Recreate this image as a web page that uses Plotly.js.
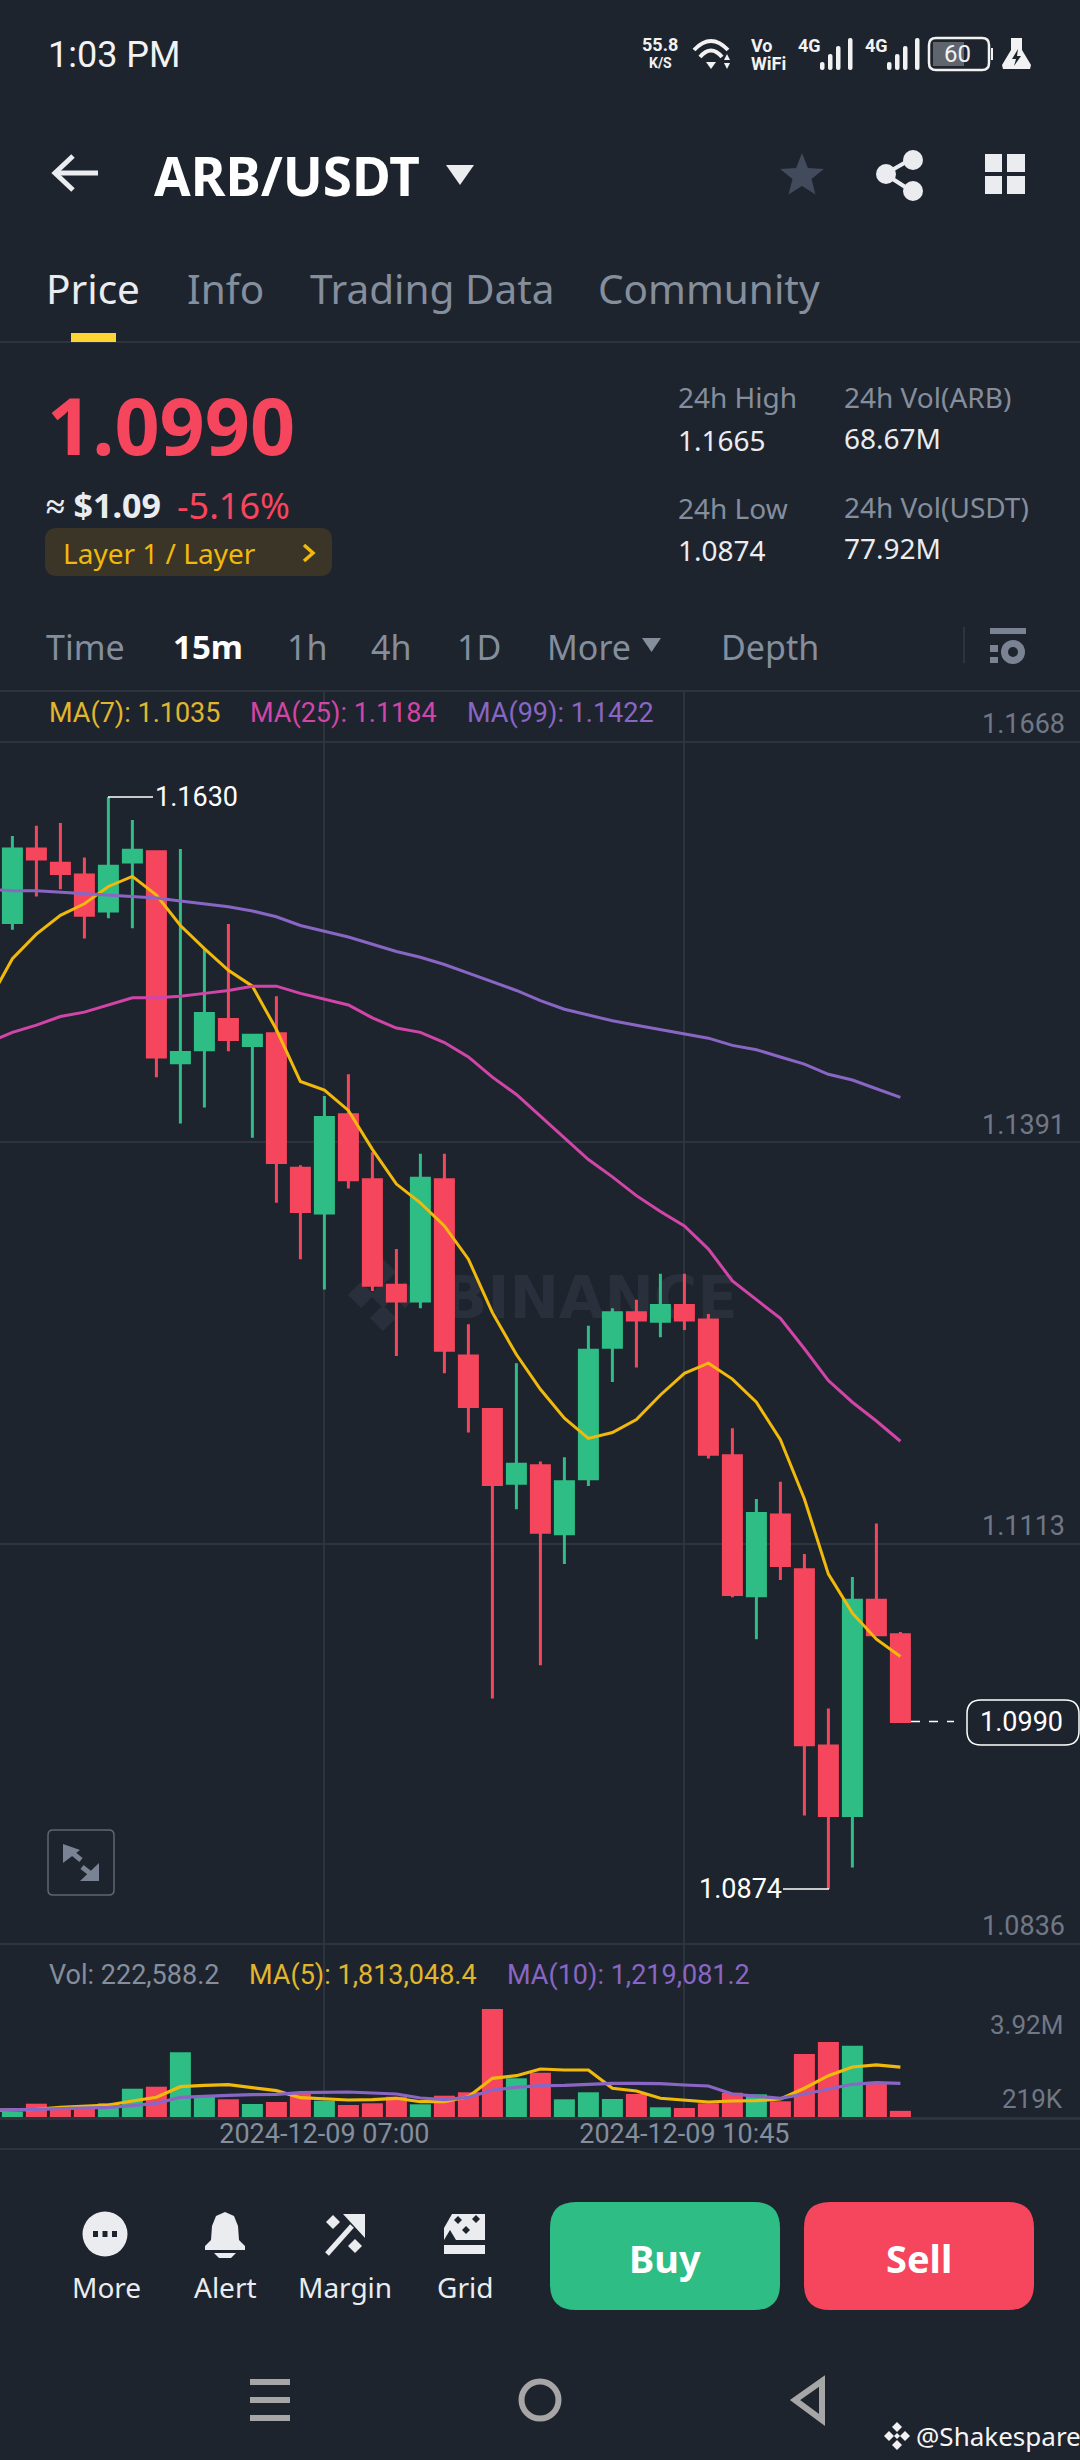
<!DOCTYPE html>
<html>
<head>
<meta charset="utf-8">
<script src="https://cdn.plot.ly/plotly-3.0.1.min.js"></script>
<style>html,body{margin:0;padding:0;background:#1e242e;}#chart{width:1080px;height:2460px;}</style>
</head>
<body>
<div id="chart"></div>
<script>
// ---------- data ----------
const times = ["03:45","04:00","04:15","04:30","04:45","05:00","05:15","05:30","05:45","06:00","06:15","06:30","06:45","07:00","07:15","07:30","07:45","08:00","08:15","08:30","08:45","09:00","09:15","09:30","09:45","10:00","10:15","10:30","10:45","11:00","11:15","11:30","11:45","12:00","12:15","12:30","12:45","13:00"];
const maTimes = ["03:30"].concat(times);
const opens = [1.1543,1.1594,1.1584,1.1576,1.1551,1.1585,1.1592,1.1446,1.1455,1.1476,1.1458,1.1466,1.1373,1.1342,1.1410,1.1365,1.1292,1.1281,1.1365,1.1243,1.1206,1.1155,1.1167,1.1120,1.1158,1.1249,1.1273,1.1267,1.1278,1.1268,1.1174,1.1077,1.1133,1.1095,1.0973,1.0925,1.1074,1.1050];
const closes = [1.1594,1.1587,1.1577,1.1548,1.1582,1.1593,1.1450,1.1453,1.1480,1.1462,1.1465,1.1377,1.1343,1.1408,1.1365,1.1292,1.1281,1.1366,1.1247,1.1208,1.1154,1.1168,1.1121,1.1156,1.1247,1.1273,1.1268,1.1278,1.1268,1.1175,1.1078,1.1134,1.1098,1.0974,1.0925,1.1074,1.1050,1.0990];
const highs = [1.1603,1.1610,1.1612,1.1588,1.1630,1.1614,1.1593,1.1594,1.1525,1.1542,1.1466,1.1492,1.1375,1.1423,1.1438,1.1384,1.1317,1.1383,1.1383,1.1265,1.1207,1.1238,1.1170,1.1173,1.1264,1.1276,1.1282,1.1300,1.1300,1.1272,1.1193,1.1144,1.1156,1.1106,1.0999,1.1090,1.1127,1.1052];
const lows = [1.1538,1.1561,1.1566,1.1532,1.1546,1.1539,1.1436,1.1404,1.1415,1.1454,1.1394,1.1349,1.1310,1.1289,1.1359,1.1288,1.1243,1.1276,1.1231,1.1190,1.1006,1.1137,1.1029,1.1099,1.1153,1.1225,1.1235,1.1256,1.1261,1.1172,1.1076,1.1047,1.1088,1.0925,1.0874,1.0889,1.1049,1.0990];
const ma7 = [1.1488,1.1518,1.1535,1.1548,1.1556,1.1568,1.1575,1.1562,1.1541,1.1525,1.1510,1.1499,1.1469,1.1433,1.1427,1.1413,1.1386,1.1362,1.1349,1.1333,1.1310,1.1273,1.1244,1.1220,1.1200,1.1186,1.1190,1.1199,1.1216,1.1231,1.1238,1.1227,1.1211,1.1185,1.1144,1.1092,1.1065,1.1047,1.1035];
const ma25 = [1.1460,1.1467,1.1472,1.1478,1.1481,1.1486,1.1491,1.1491,1.1492,1.1494,1.1496,1.1499,1.1499,1.1494,1.1490,1.1486,1.1477,1.1470,1.1467,1.1460,1.1450,1.1436,1.1424,1.1409,1.1394,1.1379,1.1367,1.1354,1.1343,1.1333,1.1317,1.1295,1.1282,1.1269,1.1248,1.1226,1.1211,1.1198,1.1184];
const ma99 = [1.1566,1.1565,1.1565,1.1564,1.1563,1.1562,1.1561,1.1560,1.1558,1.1556,1.1554,1.1551,1.1547,1.1541,1.1537,1.1533,1.1528,1.1523,1.1519,1.1514,1.1508,1.1502,1.1496,1.1489,1.1483,1.1479,1.1475,1.1472,1.1469,1.1466,1.1463,1.1458,1.1455,1.1450,1.1445,1.1438,1.1434,1.1428,1.1422];
const volumes = [192000,483000,352000,399000,497000,1027000,1100000,2348000,737000,642000,472000,544000,882000,592000,436000,497000,737000,461000,773000,897000,3920000,1405000,1608000,642000,897000,653000,835000,352000,327000,497000,882000,824000,570000,2287000,2722000,2588000,1223000,222588];
const volMa5 = [236000,254000,280000,352000,388000,436000,581000,715000,1100000,1151000,1172000,1064000,955000,701000,653000,617000,628000,679000,555000,555000,737000,1405000,1499000,1742000,1706000,1706000,1042000,944000,679000,617000,545000,581000,592000,653000,1042000,1499000,1815000,1888000,1813048];
const volMa10 = [254000,254000,280000,301000,327000,352000,410000,497000,715000,762000,788000,809000,824000,882000,908000,908000,871000,835000,690000,628000,715000,980000,1078000,1136000,1151000,1198000,1223000,1223000,1209000,1162000,1125000,835000,762000,679000,835000,1016000,1187000,1245000,1219081];
const priceTicks = [1.1668,1.1391,1.1113,1.0836];
const gridTimes = ["07:00","10:45"];
const gridLabels = ["2024-12-09 07:00","2024-12-09 10:45"];
const lastPrice = 1.0990, highMark = 1.1630, lowMark = 1.0874;

// ---------- palette ----------
const BG="#1e242e", LINE="#2e343e", GREEN="#2ebd85", RED="#f6465d", GRAY="#848e9c", DIM="#707885", WHITE="#eaecef", YEL="#f0b90b", MAG="#d245a8", PUR="#8a66c4";
const UI="Noto Sans", NUM="Roboto";
const day = t => "2024-12-09 " + t;

// ---------- helpers for chrome, in page pixels ----------
const W=1080,H=2460, px=x=>x/W, py=y=>1-y/H;
const annotations=[], shapes=[];
function T(text,x,y,size,color,o){o=o||{};annotations.push({xref:"paper",yref:"paper",x:px(x),y:py(y),xanchor:o.a||"left",yanchor:"middle",showarrow:false,text:o.b?"<b>"+text+"</b>":text,borderpad:0,font:{family:o.f||UI,size:size,color:color}});}
function P(pts,close){return pts.map((p,i)=>(i?"L":"M")+px(p[0])+","+py(p[1])).join(" ")+(close?" Z":"");}
function poly(pts,fill){shapes.push({type:"path",xref:"paper",yref:"paper",path:P(pts,true),fillcolor:fill,line:{width:0}});}
function stroke(pts,color,w){shapes.push({type:"path",xref:"paper",yref:"paper",path:P(pts,false),fillcolor:"rgba(0,0,0,0)",line:{color:color,width:w}});}
function rect(x0,y0,x1,y1,fill){poly([[x0,y0],[x1,y0],[x1,y1],[x0,y1]],fill);}
function rr(x0,y0,x1,y1,r,fill,lc,lw){
 shapes.push({type:"path",xref:"paper",yref:"paper",
  path:`M${px(x0+r)},${py(y0)} L${px(x1-r)},${py(y0)} Q${px(x1)},${py(y0)} ${px(x1)},${py(y0+r)} L${px(x1)},${py(y1-r)} Q${px(x1)},${py(y1)} ${px(x1-r)},${py(y1)} L${px(x0+r)},${py(y1)} Q${px(x0)},${py(y1)} ${px(x0)},${py(y1-r)} L${px(x0)},${py(y0+r)} Q${px(x0)},${py(y0)} ${px(x0+r)},${py(y0)} Z`,
  fillcolor:fill||"rgba(0,0,0,0)",line:{color:lc||"rgba(0,0,0,0)",width:lw||0}});}
function ell(cx,cy,rx,ry,fill,lc,lw){shapes.push({type:"circle",xref:"paper",yref:"paper",x0:px(cx-rx),x1:px(cx+rx),y0:py(cy-ry),y1:py(cy+ry),fillcolor:fill||"rgba(0,0,0,0)",line:{color:lc||"rgba(0,0,0,0)",width:lw||0}});}
function hline(y,color,w){shapes.push({type:"line",xref:"paper",yref:"paper",x0:0,x1:1,y0:py(y),y1:py(y),line:{color:color||LINE,width:w||2}});}
function diamond(cx,cy,r,fill,layer){shapes.push({type:"path",layer:layer||"above",xref:"paper",yref:"paper",path:P([[cx,cy-r],[cx+r,cy],[cx,cy+r],[cx-r,cy]],true),fillcolor:fill,line:{width:0}});}

// separators
hline(342); hline(691); hline(1944); hline(2149);

// status bar
T("1:03 PM",47,55,36,"#f2f2f2",{f:NUM});
T("55.8",660,44,18,"#f2f2f2",{a:"center",f:NUM,b:1});
T("K/S",660,63,14,"#f2f2f2",{a:"center",f:NUM,b:1});
shapes.push({type:"path",xref:"paper",yref:"paper",path:`M${px(694)},${py(50)} Q${px(711)},${py(32)} ${px(728)},${py(50)}`,fillcolor:"rgba(0,0,0,0)",line:{color:"#f2f2f2",width:4}});
shapes.push({type:"path",xref:"paper",yref:"paper",path:`M${px(700)},${py(57)} Q${px(711)},${py(44)} ${px(722)},${py(57)}`,fillcolor:"rgba(0,0,0,0)",line:{color:"#f2f2f2",width:4}});
poly([[706,62],[716,62],[711,69]],"#f2f2f2");
poly([[724,60],[730,60],[727,54]],"#f2f2f2"); poly([[724,63],[730,63],[727,69]],"#f2f2f2");
T("Vo",750,45,18,"#f2f2f2",{f:NUM,b:1});
T("WiFi",750,63,18,"#f2f2f2",{f:NUM,b:1});
T("4G",797,46,18,"#f2f2f2",{f:NUM,b:1});
[[820,62],[828,54],[836,46],[848,38]].forEach(b=>rr(b[0],b[1],b[0]+4.5,70,2,"#f2f2f2"));
T("4G",864,46,18,"#f2f2f2",{f:NUM,b:1});
[[887,62],[895,54],[903,46],[915,38]].forEach(b=>rr(b[0],b[1],b[0]+4.5,70,2,"#f2f2f2"));
rect(933,42,964,66,"#60656d");
rr(929,38,989,70,7,null,"#f2f2f2",2.5);
rect(991,48,993,60,"#f2f2f2");
T("60",957,54,24,"#f2f2f2",{a:"center",f:NUM});
poly([[1011,38],[1022,38],[1022,50],[1031,65],[1030,69],[1003,69],[1002,65],[1011,50]],"#f2f2f2");
poly([[1018,49],[1012,59],[1016,59],[1014,66],[1021,56],[1017,56]],BG);

// header
stroke([[98,173],[56,173]],WHITE,5); stroke([[73,156],[55,173],[73,190]],WHITE,5);
T("ARB/USDT",153,175,53,"#ffffff",{f:UI,b:1});
poly([[446,165],[474,165],[460,185]],WHITE);
const star=[];for(let i=0;i<10;i++){const r=i%2?10:23,a=-Math.PI/2+i*Math.PI/5;star.push([802+r*Math.cos(a),176+r*Math.sin(a)]);}
poly(star,"#414b5c");
stroke([[913,158],[885,174],[913,192]],WHITE,4);
ell(913,160,10,10,WHITE);ell(886,174,10,10,WHITE);ell(913,191,10,10,WHITE);
rect(985,154,1002,172,WHITE);rect(1007,154,1025,172,WHITE);rect(985,176,1002,194,WHITE);rect(1007,176,1025,194,WHITE);

// tabs
T("Price",45,288,40.5,WHITE,{});
T("Info",186,288,40.5,GRAY,{});
T("Trading Data",309,288,40.5,GRAY,{});
T("Community",597,288,40.5,GRAY,{});
rect(71,333,116,342,"#fcd535");

// price block
T("1.0990",46,425,79,RED,{f:UI,b:1});
T("≈ $1.09",45,505,34,WHITE,{b:1});
T("-5.16%",176,505,36,RED,{});
rr(45,528,332,576,12,"#3a3527");
T("Layer 1 / Layer",62,553,28,"#f0b90b",{});
stroke([[304,545],[313,553],[304,561]],"#f0b90b",3.5);
T("24h High",677,397,28,GRAY,{});
T("24h Vol(ARB)",843,397,28,GRAY,{});
T("1.1665",677,440,28,WHITE,{});
T("68.67M",843,438,28,WHITE,{});
T("24h Low",677,508,28,GRAY,{});
T("24h Vol(USDT)",843,507,28,GRAY,{});
T("1.0874",677,550,28,WHITE,{});
T("77.92M",843,548,28,WHITE,{});

// interval tabs
T("Time",45,647,34,GRAY,{});
T("15m",172,647,33,"#ffffff",{b:1});
T("1h",286,647,34,GRAY,{});
T("4h",370,647,34,GRAY,{});
T("1D",456,647,34,GRAY,{});
T("More",546,647,34,GRAY,{});
poly([[642,638],[661,638],[651.5,652]],GRAY);
T("Depth",720,647,34,GRAY,{});
stroke([[964,627],[964,663]],LINE,2);
rect(990,628,1026,634,"#7a8394");rect(990,645,998,652,"#7a8394");rect(990,657,998,663,"#7a8394");
ell(1013,652,12,12,"#7a8394");ell(1013,652,5,5,BG);

// price pane labels
T("MA(7): 1.1035",48,713,27,"#e2b62c",{f:NUM});
T("MA(25): 1.1184",249,713,27,MAG,{f:NUM});
T("MA(99): 1.1422",466,713,27,PUR,{f:NUM});

// last price marker
shapes.push({type:"line",xref:"paper",yref:"y",x0:px(911),x1:px(954),y0:lastPrice,y1:lastPrice,line:{color:"#ffffff",width:1.5,dash:"9px,9px"}});
rr(967,1700,1079,1745,14,BG,"#ffffff",1.5);
T("1.0990",1064,1722,27,"#ffffff",{a:"right",f:NUM});

// high / low markers, anchored to the candles through the axes
shapes.push({type:"line",xref:"paper",yref:"y",x0:px(108),x1:px(153),y0:highMark,y1:highMark,line:{color:"#ffffff",width:1.5}});
shapes.push({type:"line",xref:"paper",yref:"y",x0:px(783),x1:px(829),y0:lowMark,y1:lowMark,line:{color:"#ffffff",width:1.5}});
annotations.push({xref:"paper",yref:"y",x:px(154),y:highMark,xanchor:"left",yanchor:"middle",showarrow:false,text:highMark.toFixed(4),borderpad:0,font:{family:NUM,size:27,color:"#ffffff"}});
annotations.push({xref:"paper",yref:"y",x:px(783),y:lowMark,xanchor:"right",yanchor:"middle",showarrow:false,text:lowMark.toFixed(4),borderpad:0,font:{family:NUM,size:27,color:"#ffffff"}});

// expand button
rr(48,1830,114,1895,5,null,"#5e6673",1.5);
poly([[63,1844],[80,1850],[63,1863]],"#7a8394");
stroke([[70,1851],[81,1860]],"#7a8394",5);
poly([[99,1881],[99,1863],[80,1881]],"#7a8394");
stroke([[82,1867],[91,1874]],"#7a8394",5);

// watermark under the candles
[[383,1272],[361,1295],[405,1295],[383,1295],[383,1318]].forEach(d=>diamond(d[0],d[1],13,"#2a303b","below"));
shapes.push({type:"rect",layer:"below",xref:"paper",yref:"paper",x0:px(452),x1:px(728),y0:py(1320),y1:py(1266),fillcolor:"rgba(0,0,0,0)",line:{width:0},
  label:{text:"BINANCE",textposition:"middle center",font:{family:"DejaVu Sans",size:59,color:"#2a303b",weight:700}}});

// volume pane labels
T("Vol: 222,588.2",48,1975,27,GRAY,{f:NUM});
T("MA(5): 1,813,048.4",248,1975,27,"#e2b62c",{f:NUM});
T("MA(10): 1,219,081.2",506,1975,27,PUR,{f:NUM});
annotations.push({xref:"paper",yref:"y2",x:px(1064),y:volumes[20],yshift:-16,xanchor:"right",yanchor:"middle",showarrow:false,text:"3.92M",borderpad:0,font:{family:NUM,size:26,color:DIM}});
annotations.push({xref:"paper",yref:"y2",x:px(1064),y:219000,yshift:12,xanchor:"right",yanchor:"middle",showarrow:false,text:"219K",borderpad:0,font:{family:NUM,size:26,color:DIM}});

// action bar
ell(105,2234,22.5,22.5,WHITE);rect(93,2231,98,2237,BG);rect(102.5,2231,107.5,2237,BG);rect(112,2231,117,2237,BG);
poly([[225,2212],[234,2216],[238,2226],[239,2240],[245,2246],[245,2250],[205,2250],[205,2246],[211,2240],[212,2226],[216,2216]],WHITE);
poly([[214,2253],[236,2253],[231,2258],[219,2258]],WHITE);
T("More",106,2287,28,WHITE,{a:"center"});
T("Alert",225,2287,28,WHITE,{a:"center"});
T("Margin",345,2287,28,WHITE,{a:"center"});
T("Grid",465,2287,28,WHITE,{a:"center"});
stroke([[327,2254],[352,2226]],WHITE,5);
poly([[343,2214],[365,2214],[365,2238]],WHITE);
diamond(333,2222,7,WHITE);diamond(355,2246,7,WHITE);
rect(444,2214,485,2240,WHITE);
poly([[444,2214],[452,2214],[444,2228]],BG);poly([[456,2240],[444,2240],[450,2230]],BG);
diamond(458,2220,4,BG);diamond(466,2230,4,BG);diamond(476,2219,4,BG);
rect(444,2245,485,2254,WHITE);
rr(550,2202,780,2310,26,GREEN);
rr(804,2202,1034,2310,26,RED);
T("Buy",665,2258,38,"#ffffff",{a:"center",b:1});
T("Sell",919,2258,38,"#ffffff",{a:"center",b:1});

// nav bar
rect(250,2379,290,2385,"#a6a6a6");rect(250,2397,290,2403,"#a6a6a6");rect(250,2415,290,2421,"#a6a6a6");
ell(540,2400,18.5,18.5,null,"#a6a6a6",6);
shapes.push({type:"path",xref:"paper",yref:"paper",path:P([[822,2381],[795,2400],[822,2420]],true),fillcolor:"rgba(0,0,0,0)",line:{color:"#a6a6a6",width:6}});
[[897,2427,5],[889,2436,5],[905,2436,5],[897,2436,3],[897,2445,5]].forEach(d=>diamond(d[0],d[1],d[2],"#f2f2f2"));
T("@Shakespare",915,2436,26,"#f5f5f5",{});

// ---------- traces ----------
const tx = times.map(day), mx = maTimes.map(day);
const traces = [
 {type:"candlestick",x:tx,open:opens,high:highs,low:lows,close:closes,xaxis:"x",yaxis:"y",whiskerwidth:0,
  increasing:{line:{color:GREEN,width:3},fillcolor:GREEN},decreasing:{line:{color:RED,width:3},fillcolor:RED},hoverinfo:"skip"},
 {type:"scatter",mode:"lines",x:mx,y:ma7,xaxis:"x",yaxis:"y",line:{color:YEL,width:3},hoverinfo:"skip"},
 {type:"scatter",mode:"lines",x:mx,y:ma25,xaxis:"x",yaxis:"y",line:{color:MAG,width:3},hoverinfo:"skip"},
 {type:"scatter",mode:"lines",x:mx,y:ma99,xaxis:"x",yaxis:"y",line:{color:PUR,width:3},hoverinfo:"skip"},
 {type:"bar",x:tx,y:volumes,width:787500,xaxis:"x2",yaxis:"y2",marker:{color:closes.map((c,i)=>c>=opens[i]?GREEN:RED),line:{width:0}},hoverinfo:"skip"},
 {type:"scatter",mode:"lines",x:mx,y:volMa5,xaxis:"x2",yaxis:"y2",line:{color:YEL,width:3.2},hoverinfo:"skip"},
 {type:"scatter",mode:"lines",x:mx,y:volMa10,xaxis:"x2",yaxis:"y2",line:{color:PUR,width:3.2},hoverinfo:"skip"}
];
const xRange=[day("03:37:15"),day("14:52:15")];
const layout={
 width:W,height:H,margin:{l:0,r:0,t:0,b:0},paper_bgcolor:BG,plot_bgcolor:"rgba(0,0,0,0)",showlegend:false,hovermode:false,dragmode:false,
 boxgap:0.25,boxgroupgap:0,boxmode:"overlay",
 xaxis:{type:"date",domain:[0,1],anchor:"y",range:xRange,rangeslider:{visible:false},tickmode:"array",tickvals:gridTimes.map(day),ticktext:gridLabels,showticklabels:false,ticks:"",showgrid:true,gridcolor:LINE,gridwidth:2,zeroline:false,showline:false},
 yaxis:{domain:[(H-1944)/H,(H-691)/H],anchor:"x",side:"right",range:[1.0836,1.17033],tickmode:"array",tickvals:priceTicks,ticktext:priceTicks.map(v=>v.toFixed(4)),ticklabelposition:"inside",ticklabelshift:-18,ticklabelstandoff:12,ticks:"",showgrid:true,gridcolor:LINE,gridwidth:2,zeroline:false,showline:false,tickfont:{family:NUM,size:27,color:DIM}},
 xaxis2:{type:"date",domain:[0,1],anchor:"y2",range:xRange,matches:"x",tickmode:"array",tickvals:gridTimes.map(day),ticktext:gridLabels,ticks:"",ticklabelstandoff:-9,showgrid:true,gridcolor:LINE,gridwidth:2,zeroline:false,showline:true,linecolor:LINE,linewidth:3,tickfont:{family:NUM,size:27,color:GRAY}},
 yaxis2:{domain:[(H-2117)/H,(H-1945)/H],anchor:"x2",side:"right",range:[0,6243000],showgrid:false,zeroline:false,showticklabels:false,ticks:"",showline:false},
 annotations:annotations,shapes:shapes
};
Plotly.newPlot("chart",traces,layout,{displayModeBar:false,staticPlot:true,responsive:false});
</script>
</body>
</html>
